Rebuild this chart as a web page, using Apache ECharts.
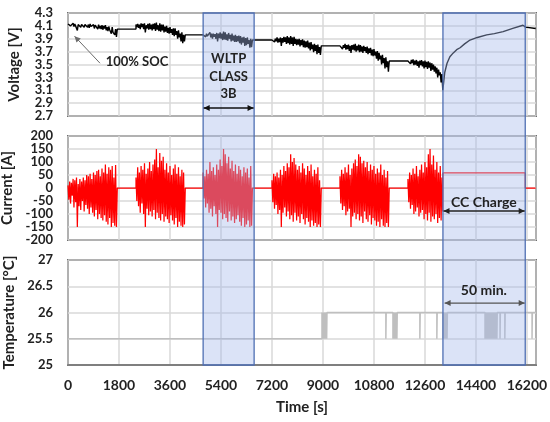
<!DOCTYPE html>
<html>
<head>
<meta charset="utf-8">
<script src="https://cdn.jsdelivr.net/npm/echarts@6/dist/echarts.min.js"></script>
<style>
	html, body { margin: 0; padding: 0; background: #fff; }
	#chart { width: 550px; height: 422px; }
</style>
</head>
<body>
<div id="chart"></div>
<script>
	// time axis [s]
	const timeTicks = [0, 1800, 3600, 5400, 7200, 9000, 10800, 12600, 14400, 16200];
	const timeMax = 16520;
	const endTime = 16510;

	// drive cycles: start of each WLTP burst, samples every 30 s (high / low alternating)
	const burstStart = [0, 2400, 4770, 7200, 9600, 12000];
	const sampleStep = 30;

	// current [A] per burst
	const cur1 = [10,-45, 25,-60, 20,-30, 35,-75, 30,-55, 40,-150, 15,-70, 35,-85, 25,-50, 40,-90,
		30,-65, 50,-80, 45,-100, 55,-75, 35,-95, 60,-110, 50,-85, 65,-120, 70,-100, 45,-115,
		75,-125, 60,-105, 90,-130, 55,-140, 80,-115, 70,-150, 85,-135, 40,-145, 88,-150, 0];
	const cur2 = [40,-50, 80,-70, 60,-95, 85,-60, 70,-100, 95,-150, 55,-80, 75,-105, 100,-90, 65,-110,
		90,-85, 110,-120, 150,-95, 80,-115, 135,-125, 105,-100, 120,-130, 70,-110, 95,-120, 60,-135,
		85,-105, 50,-125, 75,-140, 90,-115, 55,-150, 80,-130, 45,-145, 70,-150, 60,-140, 0];
	const cur3 = [60,-40, 45,-75, 70,-60, 55,-95, 100,-80, 65,-110, 80,-70, 50,-100, 90,-150, 70,-85,
		110,-95, 85,-120, 150,-100, 130,-115, 95,-130, 120,-90, 75,-125, 105,-110, 65,-135, 90,-120,
		55,-105, 85,-130, 70,-145, 45,-115, 80,-150, 60,-140, 75,-125, 40,-150, 85,-145, 0];
	const cur4 = [30,-55, 55,-80, 45,-65, 60,-100, 40,-85, 70,-150, 50,-95, 85,-75, 65,-110, 95,-90,
		80,-120, 130,-105, 100,-130, 115,-95, 90,-125, 70,-110, 85,-135, 60,-100, 95,-120, 75,-140,
		50,-115, 85,-130, 65,-150, 90,-125, 45,-145, 70,-135, 55,-150, 80,-140, 30,-150, 0];
	const cur5 = [45,-60, 70,-85, 55,-70, 80,-105, 60,-90, 90,-80, 50,-150, 75,-110, 95,-95, 110,-120,
		85,-100, 130,-125, 120,-110, 95,-135, 105,-90, 80,-120, 100,-130, 65,-105, 90,-140, 70,-115,
		85,-125, 55,-145, 75,-130, 60,-150, 90,-120, 50,-145, 70,-150, 40,-135, 65,-150, 0];
	const cur6 = [35,-55, 60,-80, 50,-65, 75,-100, 55,-90, 85,-75, 45,-110, 70,-95, 90,-85, 60,-120,
		100,-100, 80,-125, 130,-95, 150,-130, 90,-110, 125,-120, 70,-100, 100,-135, 60,-115, 85,-125,
		40,-90];

	// voltage [V] per burst (last value = rest voltage after the burst)
	const volt1 = [4.13,4.11, 4.14,4.10, 4.13,4.11, 4.14,4.09, 4.13,4.10, 4.14,4.03, 4.12,4.09, 4.13,4.08, 4.12,4.10, 4.13,4.08,
		4.12,4.09, 4.13,4.08, 4.12,4.07, 4.13,4.09, 4.11,4.07, 4.12,4.06, 4.11,4.08, 4.12,4.05, 4.12,4.06, 4.10,4.05,
		4.11,4.04, 4.10,4.06, 4.11,4.03, 4.08,4.02, 4.09,4.04, 4.07,3.98, 4.08,4.00, 4.03,3.96, 4.05,3.93, 4.05];
	const volt2 = [4.12,4.08, 4.13,4.07, 4.12,4.05, 4.14,4.08, 4.13,4.05, 4.14,4.00, 4.11,4.06, 4.13,4.04, 4.14,4.05, 4.12,4.03,
		4.13,4.05, 4.14,4.02, 4.15,4.04, 4.11,4.02, 4.14,4.01, 4.12,4.03, 4.12,4.00, 4.09,4.01, 4.10,3.99, 4.07,3.98,
		4.08,3.99, 4.05,3.96, 4.06,3.94, 4.06,3.96, 4.02,3.90, 4.03,3.92, 3.98,3.86, 4.00,3.83, 3.96,3.86, 3.96];
	const volt3 = [3.98,3.95, 3.97,3.93, 3.98,3.94, 3.97,3.91, 4.00,3.92, 3.98,3.90, 3.98,3.93, 3.97,3.90, 3.99,3.86, 3.98,3.91,
		4.00,3.90, 3.98,3.88, 4.01,3.89, 4.00,3.88, 3.97,3.87, 3.99,3.90, 3.96,3.86, 3.98,3.87, 3.95,3.85, 3.96,3.85,
		3.94,3.86, 3.95,3.83, 3.94,3.81, 3.92,3.84, 3.93,3.79, 3.91,3.80, 3.92,3.82, 3.88,3.76, 3.90,3.77, 3.88];
	const volt4 = [3.90,3.87, 3.91,3.85, 3.90,3.86, 3.92,3.84, 3.90,3.85, 3.92,3.79, 3.91,3.84, 3.93,3.85, 3.92,3.82, 3.94,3.83,
		3.92,3.81, 3.94,3.82, 3.92,3.79, 3.93,3.82, 3.90,3.80, 3.89,3.81, 3.90,3.78, 3.88,3.80, 3.89,3.77, 3.87,3.76,
		3.86,3.77, 3.87,3.75, 3.84,3.72, 3.85,3.74, 3.81,3.69, 3.82,3.71, 3.80,3.66, 3.81,3.68, 3.77,3.65, 3.79];
	const volt5 = [3.80,3.76, 3.81,3.74, 3.80,3.76, 3.82,3.73, 3.80,3.74, 3.81,3.71, 3.79,3.68, 3.80,3.73, 3.81,3.72, 3.82,3.70,
		3.79,3.72, 3.81,3.69, 3.80,3.70, 3.78,3.68, 3.79,3.71, 3.77,3.68, 3.78,3.66, 3.75,3.68, 3.76,3.64, 3.73,3.63,
		3.74,3.64, 3.70,3.59, 3.71,3.56, 3.68,3.58, 3.64,3.50, 3.65,3.52, 3.60,3.44, 3.61,3.46, 3.55,3.39, 3.555];
	const volt6 = [3.57,3.53, 3.58,3.51, 3.57,3.52, 3.58,3.49, 3.56,3.50, 3.57,3.48, 3.55,3.45, 3.56,3.49, 3.57,3.47, 3.55,3.44,
		3.56,3.46, 3.54,3.43, 3.55,3.45, 3.53,3.40, 3.52,3.42, 3.50,3.39, 3.47,3.36, 3.45,3.30, 3.42,3.33, 3.38,3.22,
		3.35,3.10];

	// CC charge
	const chargeStart = 13235;
	const chargeEnd = 16140;
	const chargeCurrent = 58;
	const chargeTime = [13235, 13300, 13380, 13480, 13600, 13720, 13840, 14000, 14190, 14450, 14780, 15050, 15360, 15700, 16060, 16130, 16150, 16220, 16510];
	const chargeVolt = [3.10, 3.38, 3.52, 3.62, 3.68, 3.73, 3.76, 3.82, 3.88, 3.92, 3.96, 3.98, 4.01, 4.06, 4.11, 4.13, 4.08, 4.07, 4.06];

	// temperature [°C]
	const tempLow = 25.5;
	const tempHigh = 26;
	const tempRise = 8965;
	const tempDips = [8990, 9025, 9060, 9095, 9130, 11220, 11470, 11505, 11540, 11575, 11610, 12420, 13020,
		13240, 13275, 13310, 13345, 13380, 14720, 14755, 14790, 14825, 14860, 14895, 14930, 14965, 15000,
		15035, 15070, 15105, 15140, 15250, 15420, 16380];
	const tempDipWidth = 12;

	// highlighted windows
	const wltpWindow = [4770, 6570];
	const chargeWindow = [13235, 16140];

	const vMin = 2.7, vMax = 4.3, vStep = 0.2;
	const fontFam = 'Lato, "Open Sans", sans-serif';
	const textColor = '#222';

	const currentBursts = [cur1, cur2, cur3, cur4, cur5, cur6];
	const voltBursts = [volt1, volt2, volt3, volt4, volt5, volt6];

	// bursts + rest periods into [t, v] points
	const buildDrive = (bursts) => {
		let pts = [];
		bursts.forEach((vals, k) => {
			let t0 = burstStart[k];
			vals.forEach((v, i) => pts.push([t0 + i * sampleStep, v]));
			let tEnd = k + 1 < burstStart.length ? burstStart[k + 1] : chargeStart;
			pts.push([tEnd, vals[vals.length - 1]]);
		});
		return pts;
	};

	let currentPts = buildDrive(currentBursts);
	currentPts.push([chargeStart, chargeCurrent], [chargeEnd, chargeCurrent], [chargeEnd, 0], [endTime, 0]);

	let voltPts = buildDrive(voltBursts);
	chargeTime.forEach((t, i) => voltPts.push([t, chargeVolt[i]]));
	// voltage axis runs from 0, labels shifted back by vMin
	voltPts = voltPts.map(p => [p[0], p[1] - vMin]);

	let tempPts = [[0, tempLow], [tempRise, tempLow], [tempRise, tempHigh]];
	tempDips.forEach(t => {
		tempPts.push([t, tempHigh], [t, tempLow], [t + tempDipWidth, tempLow], [t + tempDipWidth, tempHigh]);
	});
	tempPts.push([endTime, tempHigh]);

	const gridLeft = 68, gridRight = 14;
	const grids = [
		{ top: 13, height: 103 },
		{ top: 136, height: 104 },
		{ top: 260, height: 105 },
	];

	const splitStyle = { show: true, lineStyle: { color: '#d9d9d9', width: 1.5 } };
	const yLabel = { fontSize: 13, fontWeight: 'bold', color: textColor, fontFamily: fontFam, margin: 15 };
	const yName = { fontSize: 15, fontWeight: 'bold', color: textColor, fontFamily: fontFam };

	const xAxisBase = (i) => ({
		type: 'value',
		gridIndex: i,
		min: 0,
		max: timeMax,
		interval: 1800,
		axisLine: i == 2 ? { show: true, onZero: false, lineStyle: { color: '#7f7f7f', width: 2 } } : { show: false },
		axisTick: { show: false },
		splitLine: splitStyle,
		axisLabel: {
			show: i == 2,
			fontSize: 14,
			fontWeight: 'bold',
			color: textColor,
			fontFamily: fontFam,
			margin: 13,
			formatter: v => (timeTicks.indexOf(v) >= 0 ? String(v) : '')
		},
		name: i == 2 ? 'Time [s]' : '',
		nameLocation: 'middle',
		nameGap: 35,
		nameTextStyle: { fontSize: 15, fontWeight: 'bold', color: textColor, fontFamily: fontFam }
	});

	const chart = echarts.init(document.getElementById('chart'), null, { renderer: 'canvas' });

	const option = {
		backgroundColor: '#fff',
		animation: false,
		grid: grids.map(g => ({
			left: gridLeft, right: gridRight, top: g.top, height: g.height,
			show: true, borderColor: '#000', borderWidth: 1.5, backgroundColor: 'transparent',
			containLabel: false, outerBoundsMode: 'none'
		})),
		xAxis: [xAxisBase(0), xAxisBase(1), xAxisBase(2)],
		yAxis: [{
			type: 'value', gridIndex: 0,
			min: 0, max: vMax - vMin, interval: vStep,
			axisLine: { show: false }, axisTick: { show: false },
			splitLine: splitStyle,
			axisLabel: Object.assign({}, yLabel, { formatter: v => (v + vMin).toFixed(1) }),
			name: 'Voltage [V]', nameLocation: 'middle', nameGap: 46, nameTextStyle: yName
		}, {
			type: 'value', gridIndex: 1,
			min: -200, max: 200, interval: 50,
			axisLine: { show: false }, axisTick: { show: false },
			splitLine: splitStyle,
			axisLabel: yLabel,
			name: 'Current [A]', nameLocation: 'middle', nameGap: 46, nameTextStyle: yName
		}, {
			type: 'value', gridIndex: 2,
			min: 25, max: 27, interval: 0.5,
			axisLine: { show: false }, axisTick: { show: false },
			splitLine: splitStyle,
			axisLabel: yLabel,
			name: 'Temperature [°C]', nameLocation: 'middle', nameGap: 46, nameTextStyle: yName
		}],
		series: [{
			name: 'Voltage', type: 'line', xAxisIndex: 0, yAxisIndex: 0,
			data: voltPts, showSymbol: false, symbol: 'none', silent: true,
			lineStyle: { color: '#000', width: 1.4 }
		}, {
			name: 'Current', type: 'line', xAxisIndex: 1, yAxisIndex: 1,
			data: currentPts, showSymbol: false, symbol: 'none', silent: true,
			lineStyle: { color: '#ff0000', width: 1.25 }
		}, {
			name: 'Temperature', type: 'line', xAxisIndex: 2, yAxisIndex: 2,
			data: tempPts, showSymbol: false, symbol: 'none', silent: true,
			lineStyle: { color: '#bfbfbf', width: 1.5 }
		}]
	};
	chart.setOption(option);

	// annotations, placed in data coordinates
	const px = (g, t, v) => chart.convertToPixel({ gridIndex: g }, [t, g == 0 ? v - vMin : v]);

	const arrowHead = (tip, from, color) => {
		let dx = tip[0] - from[0], dy = tip[1] - from[1];
		let L = Math.hypot(dx, dy), ux = dx / L, uy = dy / L;
		let len = 6, hw = 3;
		return {
			type: 'polygon', z: 120, silent: true,
			shape: { points: [tip, [tip[0] - ux * len - uy * hw, tip[1] - uy * len + ux * hw], [tip[0] - ux * len + uy * hw, tip[1] - uy * len - ux * hw]] },
			style: { fill: color }
		};
	};
	const arrow = (a, b, both, color, width) => {
		let els = [{
			type: 'line', z: 120, silent: true,
			shape: { x1: a[0], y1: a[1], x2: b[0], y2: b[1] },
			style: { stroke: color, lineWidth: width }
		}, arrowHead(b, a, color)];
		if (both) els.push(arrowHead(a, b, color));
		return els;
	};
	const label = (p, text, size, lh) => ({
		type: 'text', z: 120, silent: true, x: p[0], y: p[1],
		style: {
			text: text, fill: textColor, font: 'bold ' + size + 'px ' + fontFam,
			align: 'center', verticalAlign: 'middle', textAlign: 'center', textVerticalAlign: 'middle',
			lineHeight: lh || size + 2
		}
	});

	const topY = px(0, 0, vMax)[1];
	const bottomY = px(2, 0, 25)[1];
	const windowRect = (w) => {
		let x1 = px(2, w[0], 25)[0], x2 = px(2, w[1], 25)[0];
		return {
			type: 'rect', z: 100, silent: true,
			shape: { x: x1, y: topY, width: x2 - x1, height: bottomY - topY },
			style: { fill: 'rgba(165,186,235,0.40)', stroke: '#4f6fb3', lineWidth: 1.3 }
		};
	};

	let elements = [windowRect(wltpWindow), windowRect(chargeWindow)];
	elements.push(label(px(0, 2435, 3.54), '100% SOC', 13));
	elements = elements.concat(arrow(px(0, 1130, 3.52), px(0, 230, 3.94), false, '#6b6b6b', 1));
	elements.push(label(px(0, (wltpWindow[0] + wltpWindow[1]) / 2, 3.31), 'WLTP\nCLASS\n3B', 13, 17.5));
	elements = elements.concat(arrow(px(0, wltpWindow[0] + 20, 2.825), px(0, wltpWindow[1] - 20, 2.825), true, '#111', 1.5));
	elements.push(label(px(1, 14680, -54), 'CC Charge', 14));
	elements = elements.concat(arrow(px(1, chargeWindow[0] + 20, -88), px(1, chargeWindow[1] - 20, -88), true, '#222', 1.5));
	elements.push(label(px(2, 14680, 26.41), '50 min.', 14));
	elements = elements.concat(arrow(px(2, chargeWindow[0] + 60, 26.18), px(2, chargeWindow[1] - 20, 26.18), true, '#555', 1.3));

	chart.setOption({ graphic: { elements: elements } });
</script>
</body>
</html>
